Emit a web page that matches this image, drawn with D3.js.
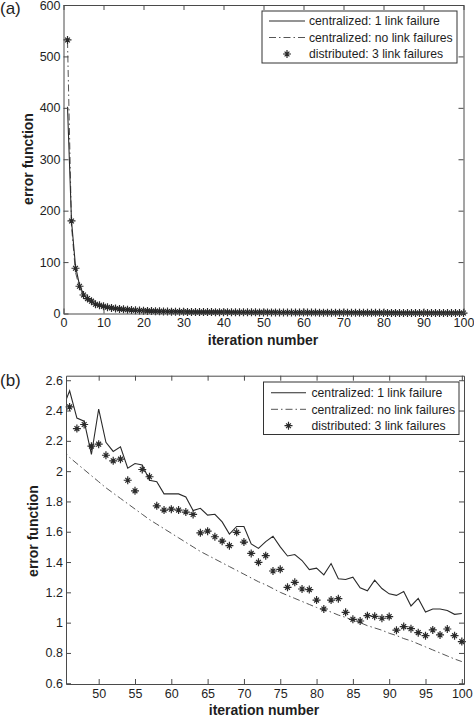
<!DOCTYPE html>
<html>
<head>
<meta charset="utf-8">
<script src="https://cdn.jsdelivr.net/npm/d3@7"></script>
<style>
  html, body { margin: 0; padding: 0; background: #fff; }
  svg { display: block; }
  text { font-family: "Liberation Sans", Arial, Helvetica, sans-serif; fill: #1e1e1e; }
</style>
</head>
<body>
<svg id="chart" width="474" height="717"></svg>
<script>
// ---------------- DATA ----------------
const iterations = d3.range(1, 101);

const central1Fail = [
  402, 180, 92, 55, 38, 28, 22, 18, 15.2, 13.2,
  11.6, 10.3, 9.3, 8.5, 7.8, 7.2, 6.7, 6.25, 5.85, 5.5,
  5.2, 4.92, 4.68, 4.46, 4.26, 4.08, 3.92, 3.78, 3.65, 3.53,
  3.42, 3.32, 3.23, 3.15, 3.07, 3.0, 2.93, 2.87, 2.81, 2.76,
  2.7, 2.64, 2.58, 2.5, 2.41,
  2.53, 2.35, 2.33, 2.11, 2.41, 2.19, 2.13, 2.16, 2.02, 2.05,
  2.04, 1.94, 1.93, 1.85, 1.85, 1.85, 1.83, 1.74, 1.755, 1.71,
  1.715, 1.665, 1.585, 1.635, 1.635, 1.52, 1.49, 1.535, 1.57, 1.50,
  1.44, 1.45, 1.41, 1.35, 1.36, 1.315, 1.39, 1.29, 1.285, 1.30,
  1.23, 1.21, 1.28, 1.225, 1.19, 1.18, 1.205, 1.11, 1.16, 1.07,
  1.09, 1.09, 1.08, 1.055, 1.06
];

const centralNoFail = [
  530, 170, 80, 50, 37, 28.5, 23, 19, 16.2, 14,
  12.3, 10.9, 9.7, 8.7, 7.9, 7.2, 6.6, 6.1, 5.65, 5.25,
  4.9, 4.6, 4.35, 4.1, 3.9, 3.7, 3.53, 3.38, 3.25, 3.13,
  3.02, 2.92, 2.83, 2.75, 2.67, 2.6, 2.54, 2.48, 2.42, 2.37,
  2.32, 2.27, 2.22, 2.18, 2.14,
  2.09, 2.05, 2.01, 1.97, 1.93, 1.89, 1.855, 1.82, 1.785, 1.75,
  1.715, 1.68, 1.65, 1.62, 1.59, 1.56, 1.53, 1.50, 1.47, 1.445,
  1.42, 1.395, 1.37, 1.345, 1.32, 1.295, 1.27, 1.25, 1.225, 1.20,
  1.18, 1.16, 1.14, 1.12, 1.10, 1.085, 1.07, 1.05, 1.035, 1.015,
  1.0, 0.98, 0.965, 0.95, 0.93, 0.915, 0.895, 0.88, 0.86, 0.84,
  0.82, 0.80, 0.78, 0.76, 0.743
];

const distributed3Fail = [
  532, 180, 88, 53, 36, 29, 24, 18, 16, 14,
  12.2, 10.9, 9.8, 8.9, 8.1, 7.4, 6.8, 6.3, 5.85, 5.45,
  5.1, 4.8, 4.5, 4.25, 4.02, 3.82, 3.64, 3.48, 3.34, 3.22,
  3.11, 3.01, 2.93, 2.86, 2.8, 2.74, 2.69, 2.64, 2.6, 2.56,
  2.53, 2.5, 2.48, 2.46, 2.45,
  2.424, 2.281, 2.308, 2.165, 2.178, 2.105, 2.068, 2.079, 1.94, 1.87,
  2.011, 1.963, 1.771, 1.743, 1.749, 1.743, 1.730, 1.714, 1.593, 1.604,
  1.567, 1.538, 1.508, 1.596, 1.532, 1.457, 1.398, 1.442, 1.341, 1.352,
  1.233, 1.266, 1.222, 1.218, 1.149, 1.090, 1.149, 1.158, 1.068, 1.022,
  1.011, 1.046, 1.042, 1.029, 1.040, 0.950, 0.974, 0.960, 0.934, 0.914,
  0.952, 0.919, 0.958, 0.914, 0.875
];

const seriesNames = ["centralized: 1 link failure", "centralized: no link failures", "distributed: 3 link failures"];

const xTicksA = [0, 10, 20, 30, 40, 50, 60, 70, 80, 90, 100];
const yTicksA = [0, 100, 200, 300, 400, 500, 600];
const xTicksB = [50, 55, 60, 65, 70, 75, 80, 85, 90, 95, 100];
const yTicksB = [0.6, 0.8, 1.0, 1.2, 1.4, 1.6, 1.8, 2.0, 2.2, 2.4, 2.6];

const panelLabels = ["(a)", "(b)"];
const xLabel = "iteration number";
const yLabel = "error function";

// ---------------- DRAW ----------------
const svg = d3.select("#chart");
svg.append("rect").attr("width", 474).attr("height", 717).attr("fill", "#fff");

const AXIS_COLOR = "#4a4a4a";
const LINE_COLOR = "#2a2a2a";
const DASH_COLOR = "#555";
const starPath = "M-4,0H4M0,-4V4M-2.4,-2.4L2.4,2.4M-2.4,2.4L2.4,-2.4";

function drawPanel(cfg, idx) {
  const g = svg.append("g");
  const x = d3.scaleLinear().domain(cfg.xDomain).range(cfg.xRange);
  const y = d3.scaleLinear().domain(cfg.yDomain).range(cfg.yRange);
  const [x0, x1] = cfg.xRange;
  const [y0, y1] = cfg.yRange; // y0 bottom, y1 top

  const clipId = "clip" + idx;
  g.append("clipPath").attr("id", clipId)
    .append("rect").attr("x", x0).attr("y", y1).attr("width", x1 - x0).attr("height", y0 - y1);

  const pts = iterations.map((n, i) => ({ n, a: central1Fail[i], b: centralNoFail[i], c: distributed3Fail[i] }))
    .filter(d => d.n >= cfg.nMin);
  const starPts = pts.filter(d => x(d.n) >= x0);

  const lineA = d3.line().x(d => x(d.n)).y(d => y(d.a));
  const lineB = d3.line().x(d => x(d.n)).y(d => y(d.b));

  const data = g.append("g").attr("clip-path", `url(#${clipId})`);
  data.append("path").datum(pts).attr("d", lineB)
    .attr("fill", "none").attr("stroke", DASH_COLOR).attr("stroke-width", 1)
    .attr("stroke-dasharray", "7,3,1.5,3");
  data.append("path").datum(pts).attr("d", lineA)
    .attr("fill", "none").attr("stroke", LINE_COLOR).attr("stroke-width", 1.1);

  g.append("g").selectAll("path").data(starPts).join("path")
    .attr("d", starPath)
    .attr("transform", d => `translate(${x(d.n)},${y(d.c)})`)
    .attr("fill", "none").attr("stroke", "#2a2a2a").attr("stroke-width", 1.2);

  // axes (ticks inward, MATLAB box)
  const fmt = d => String(+(+d).toFixed(1));
  const axB = g.append("g").attr("transform", `translate(0,${y0})`)
    .call(d3.axisBottom(x).tickValues(cfg.xTicks).tickSizeInner(-5).tickSizeOuter(0).tickPadding(5).tickFormat(fmt));
  const axL = g.append("g").attr("transform", `translate(${x0},0)`)
    .call(d3.axisLeft(y).tickValues(cfg.yTicks).tickSizeInner(-5).tickSizeOuter(0).tickPadding(3).tickFormat(fmt));
  const axT = g.append("g").attr("transform", `translate(0,${y1})`)
    .call(d3.axisTop(x).tickValues(cfg.xTicks).tickSizeInner(-5).tickSizeOuter(0).tickFormat(""));
  const axR = g.append("g").attr("transform", `translate(${x1},0)`)
    .call(d3.axisRight(y).tickValues(cfg.yTicks).tickSizeInner(-5).tickSizeOuter(0).tickFormat(""));
  [axB, axL, axT, axR].forEach(a => {
    a.selectAll("path.domain").attr("stroke", AXIS_COLOR).attr("stroke-width", 1);
    a.selectAll("line").attr("stroke", AXIS_COLOR).attr("stroke-width", 1);
    a.selectAll("text").attr("font-size", 12.5).attr("fill", "#1e1e1e")
      .attr("font-family", '"Liberation Sans", Arial, sans-serif');
  });

  // axis titles
  g.append("text").attr("x", cfg.xLabelPos[0]).attr("y", cfg.xLabelPos[1])
    .attr("text-anchor", "middle").attr("font-weight", "bold").attr("font-size", 14)
    .text(xLabel);
  g.append("text")
    .attr("transform", `translate(${cfg.yLabelPos[0]},${cfg.yLabelPos[1]}) rotate(-90)`)
    .attr("text-anchor", "middle").attr("font-weight", "bold").attr("font-size", 14)
    .text(yLabel);

  // panel label
  g.append("text").attr("x", 0).attr("y", cfg.panelLabelY)
    .attr("font-size", 17).text(panelLabels[idx]);

  // legend
  const L = cfg.legend;
  g.append("rect").attr("x", L.x).attr("y", L.y).attr("width", L.w).attr("height", L.h)
    .attr("fill", "#fff").attr("stroke", "#333").attr("stroke-width", 1);
  seriesNames.forEach((name, i) => {
    const ry = L.rows[i];
    if (i === 0) {
      g.append("line").attr("x1", L.sx0).attr("x2", L.sx1).attr("y1", ry).attr("y2", ry)
        .attr("stroke", LINE_COLOR).attr("stroke-width", 1.1);
    } else if (i === 1) {
      g.append("line").attr("x1", L.sx0).attr("x2", L.sx1).attr("y1", ry).attr("y2", ry)
        .attr("stroke", DASH_COLOR).attr("stroke-width", 1).attr("stroke-dasharray", "7,3,1.5,3");
    } else {
      g.append("path").attr("d", starPath)
        .attr("transform", `translate(${(L.sx0 + L.sx1) / 2},${ry})`)
        .attr("fill", "none").attr("stroke", "#2a2a2a").attr("stroke-width", 1.2);
    }
    g.append("text").attr("x", L.tx).attr("y", ry).attr("dy", "0.36em")
      .attr("font-size", 12.2).text(name);
  });
}

drawPanel({
  xDomain: [0, 100], xRange: [63.5, 463.5],
  yDomain: [0, 600], yRange: [313.5, 5],
  xTicks: xTicksA, yTicks: yTicksA, nMin: 1,
  xLabelPos: [263, 345], yLabelPos: [33, 159], panelLabelY: 14,
  legend: { x: 262, y: 11, w: 195, h: 52, rows: [21, 37.5, 54], sx0: 269, sx1: 305, tx: 309 }
}, 0);

drawPanel({
  xDomain: [45.5, 100.3], xRange: [66, 464],
  yDomain: [0.595, 2.63], yRange: [684, 375.7],
  xTicks: xTicksB, yTicks: yTicksB, nMin: 45,
  xLabelPos: [264, 715], yLabelPos: [38, 531], panelLabelY: 386,
  legend: { x: 263.5, y: 382, w: 195.5, h: 52.5, rows: [392.7, 409.3, 425.7], sx0: 271, sx1: 306, tx: 311.5 }
}, 1);
</script>
</body>
</html>
